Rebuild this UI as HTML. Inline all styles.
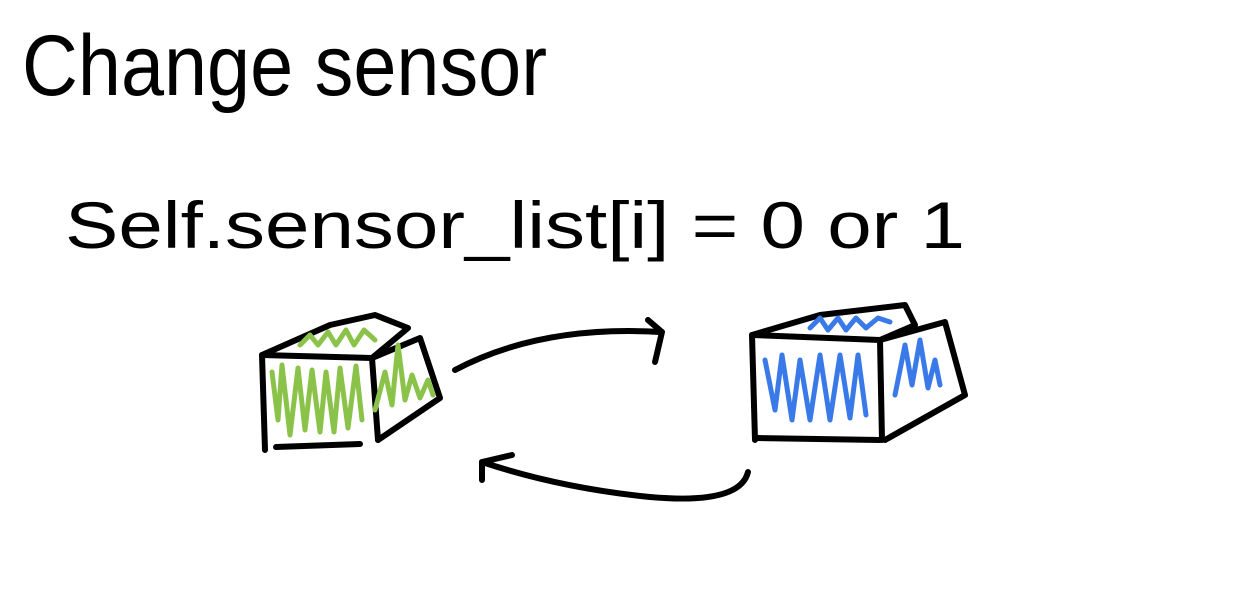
<!DOCTYPE html>
<html><head><meta charset="utf-8"><style>
html,body{margin:0;padding:0;background:#fff;}
svg{display:block}
text{font-family:"Liberation Sans","DejaVu Sans",sans-serif;fill:#000;}
</style></head><body>
<svg width="1235" height="591" viewBox="0 0 1235 591" xmlns="http://www.w3.org/2000/svg">
<text x="22" y="95" font-size="86" textLength="525" lengthAdjust="spacingAndGlyphs">Change  sensor</text>
<text x="65" y="248" font-size="66" textLength="900" lengthAdjust="spacingAndGlyphs">Self.sensor_list[i] = 0  or  1</text>
<g fill="none" stroke="#000" stroke-width="6" stroke-linecap="round" stroke-linejoin="round">
<!-- green cube -->
<path d="M262 355 L265 450"/>
<path d="M262 355 L372 358 L378 440"/>
<path d="M276 447 L360 444"/>
<path d="M262 355 L330 325 L375 315 L408 328 L372 358"/>
<path d="M372 358 L420 338 L440 398 L378 440"/>
<!-- blue cube -->
<path d="M752 335 L755 440"/>
<path d="M752 335 L880 340 L882 440"/>
<path d="M758 438 L880 440"/>
<path d="M752 335 L820 315 L905 305 L915 325 L880 340"/>
<path d="M880 340 L945 322 L965 395 L885 440"/>
<!-- arrows -->
<path d="M455 370 Q540 325 660 332"/>
<path d="M648 320 L662 332 L655 362"/>
<path d="M748 472 Q740 505 650 497 Q560 488 482 462"/>
<path d="M512 455 L482 462 L482 480"/>
</g>
<g fill="none" stroke-width="5" stroke-linecap="round" stroke-linejoin="round">
<path stroke="#8bc34a" d="M272 372 L278 420 L282 365 L290 435 L298 368 L305 430 L312 370 L320 432 L326 372 L334 432 L340 368 L348 428 L356 366 L362 420"/>
<path stroke="#8bc34a" d="M300 345 L310 335 L318 345 L328 332 L336 345 L346 330 L354 345 L364 330 L375 340"/>
<path stroke="#8bc34a" d="M375 410 L385 372 L392 405 L398 345 L405 400 L412 375 L420 398 L428 380 L433 395"/>
<path stroke="#3a7ae8" d="M765 360 L775 410 L782 355 L792 420 L800 360 L810 420 L820 355 L830 420 L840 355 L850 418 L858 355 L866 415"/>
<path stroke="#3a7ae8" d="M810 328 L820 318 L828 330 L838 318 L846 330 L856 318 L866 328 L878 318 L890 322"/>
<path stroke="#3a7ae8" d="M895 395 L905 345 L912 385 L920 340 L928 388 L935 360 L940 385"/>
</g>
</svg>
</body></html>
